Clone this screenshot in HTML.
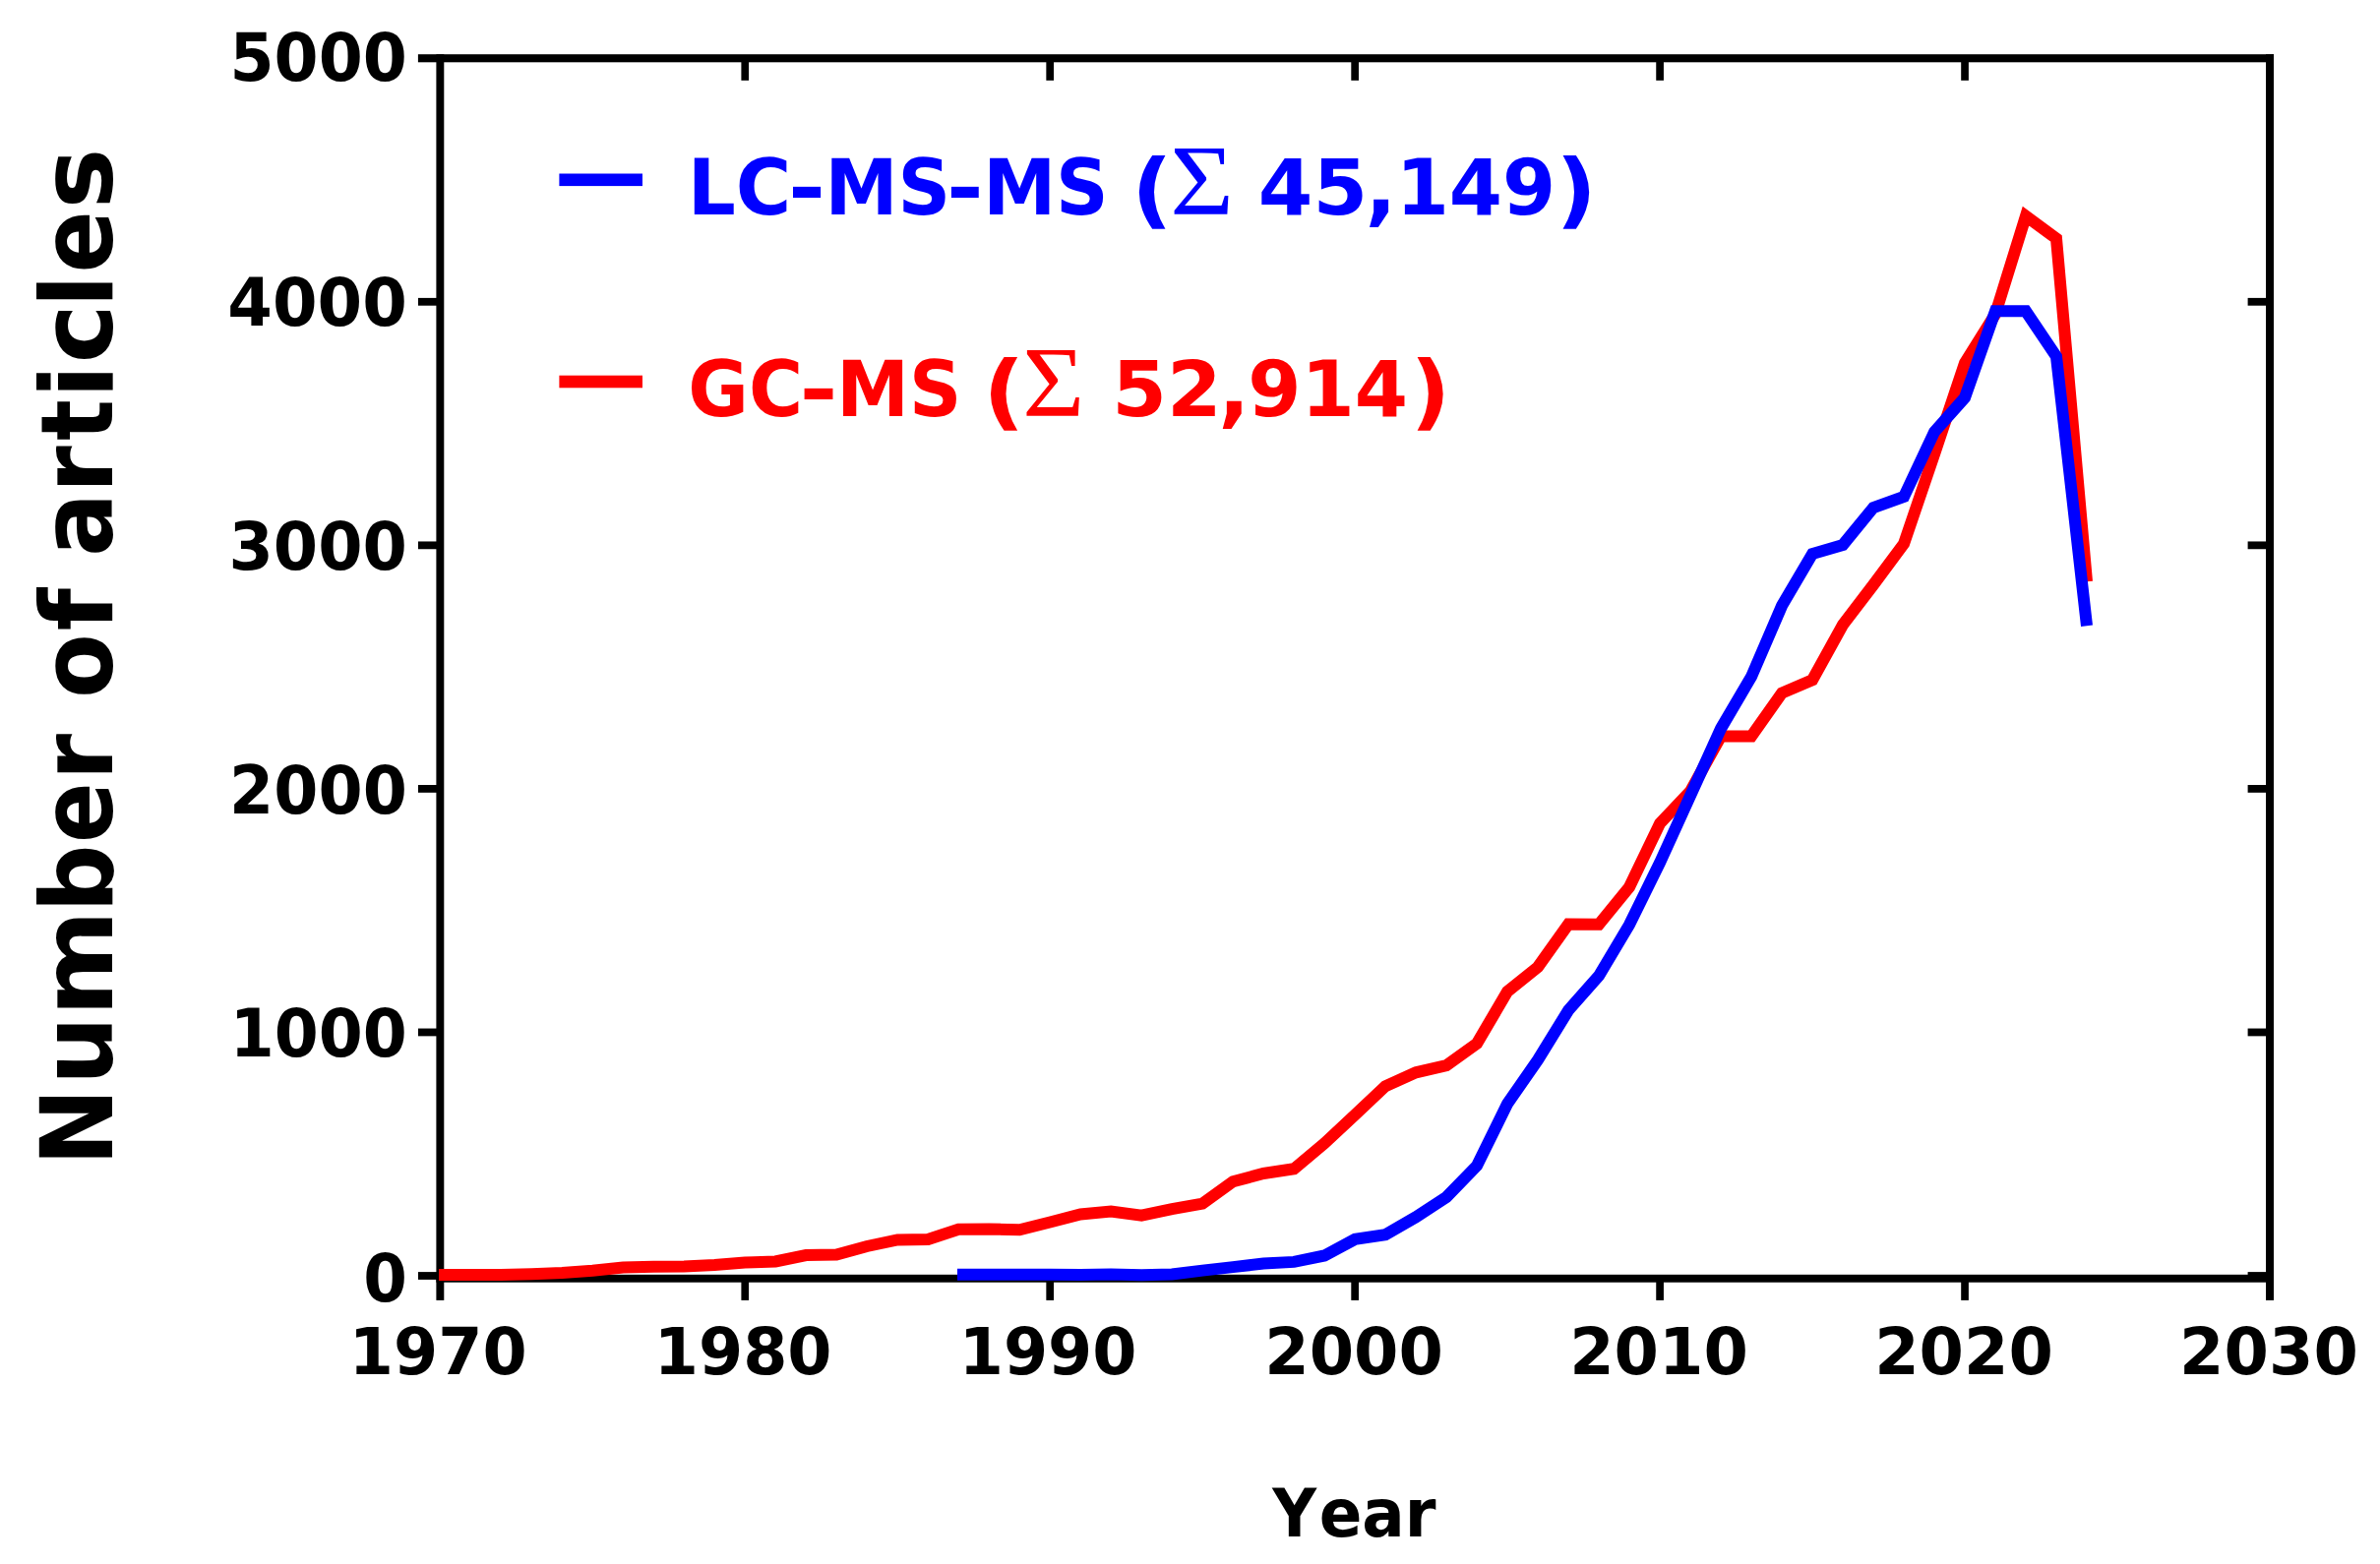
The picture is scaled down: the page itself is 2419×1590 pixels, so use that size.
<!DOCTYPE html>
<html lang="en"><head><meta charset="utf-8"><title>Number of articles per year</title>
<style>html,body{margin:0;padding:0;background:#fff}svg{display:block;filter:blur(0.7px)}</style></head>
<body><svg width="2419" height="1590" viewBox="0 0 2419 1590">
<rect width="2419" height="1590" fill="#fff"/>
<g id="axes">
<rect x="443.40" y="55.20" width="7.90" height="1266.70" fill="#000"/>
<rect x="2303.00" y="55.20" width="8.00" height="1266.70" fill="#000"/>
<rect x="424.90" y="55.20" width="1886.10" height="8.10" fill="#000"/>
<rect x="443.40" y="1295.80" width="1867.60" height="7.90" fill="#000"/>
<rect x="425.00" y="1293.10" width="19.40" height="7.80" fill="#000"/>
<rect x="2284.60" y="1293.10" width="19.40" height="7.80" fill="#000"/>
<rect x="425.00" y="1045.55" width="19.40" height="7.80" fill="#000"/>
<rect x="2284.60" y="1045.55" width="19.40" height="7.80" fill="#000"/>
<rect x="425.00" y="798.00" width="19.40" height="7.80" fill="#000"/>
<rect x="2284.60" y="798.00" width="19.40" height="7.80" fill="#000"/>
<rect x="425.00" y="550.45" width="19.40" height="7.80" fill="#000"/>
<rect x="2284.60" y="550.45" width="19.40" height="7.80" fill="#000"/>
<rect x="425.00" y="302.90" width="19.40" height="7.80" fill="#000"/>
<rect x="2284.60" y="302.90" width="19.40" height="7.80" fill="#000"/>
<rect x="753.40" y="1302.70" width="7.70" height="19.20" fill="#000"/>
<rect x="753.40" y="62.30" width="7.70" height="19.50" fill="#000"/>
<rect x="1063.35" y="1302.70" width="7.70" height="19.20" fill="#000"/>
<rect x="1063.35" y="62.30" width="7.70" height="19.50" fill="#000"/>
<rect x="1373.30" y="1302.70" width="7.70" height="19.20" fill="#000"/>
<rect x="1373.30" y="62.30" width="7.70" height="19.50" fill="#000"/>
<rect x="1683.25" y="1302.70" width="7.70" height="19.20" fill="#000"/>
<rect x="1683.25" y="62.30" width="7.70" height="19.50" fill="#000"/>
<rect x="1993.20" y="1302.70" width="7.70" height="19.20" fill="#000"/>
<rect x="1993.20" y="62.30" width="7.70" height="19.50" fill="#000"/>
</g>
<g id="labels" font-family="'DejaVu Sans', 'Liberation Sans', sans-serif" font-weight="bold">
<text x="233.48" y="82.30" font-size="66.80" textLength="180.35" lengthAdjust="spacingAndGlyphs" fill="#000">5000</text>
<text x="231.35" y="330.70" font-size="66.80" textLength="182.51" lengthAdjust="spacingAndGlyphs" fill="#000">4000</text>
<text x="232.50" y="578.90" font-size="66.80" textLength="181.34" lengthAdjust="spacingAndGlyphs" fill="#000">3000</text>
<text x="233.11" y="826.70" font-size="66.80" textLength="180.72" lengthAdjust="spacingAndGlyphs" fill="#000">2000</text>
<text x="233.72" y="1074.40" font-size="66.80" textLength="180.10" lengthAdjust="spacingAndGlyphs" fill="#000">1000</text>
<text x="369.15" y="1322.60" font-size="66.80" textLength="44.65" lengthAdjust="spacingAndGlyphs" fill="#000">0</text>
<text x="354.79" y="1397.41" font-size="65.74" textLength="180.84" lengthAdjust="spacingAndGlyphs" fill="#000">1970</text>
<text x="664.74" y="1397.41" font-size="65.74" textLength="180.84" lengthAdjust="spacingAndGlyphs" fill="#000">1980</text>
<text x="974.69" y="1397.41" font-size="65.74" textLength="180.84" lengthAdjust="spacingAndGlyphs" fill="#000">1990</text>
<text x="1285.23" y="1397.41" font-size="65.74" textLength="181.77" lengthAdjust="spacingAndGlyphs" fill="#000">2000</text>
<text x="1595.18" y="1397.41" font-size="65.74" textLength="181.77" lengthAdjust="spacingAndGlyphs" fill="#000">2010</text>
<text x="1905.13" y="1397.41" font-size="65.74" textLength="181.77" lengthAdjust="spacingAndGlyphs" fill="#000">2020</text>
<text x="2215.08" y="1397.41" font-size="65.74" textLength="181.77" lengthAdjust="spacingAndGlyphs" fill="#000">2030</text>
<text fill="#000"><tspan x="1293.26" y="1562.28" font-size="68.32" textLength="44.82" lengthAdjust="spacingAndGlyphs">Y</tspan><tspan x="1340.66" y="1562.28" font-size="68.32" textLength="118.88" lengthAdjust="spacingAndGlyphs">ear</tspan></text>
<text transform="translate(113.9,0) rotate(-90)" fill="#000"><tspan x="-1185.32" y="0.00" font-size="101.00" textLength="78.88" lengthAdjust="spacingAndGlyphs">N</tspan><tspan x="-1103.10" y="0.00" font-size="101.00" textLength="69.77" lengthAdjust="spacingAndGlyphs">u</tspan><tspan x="-1033.02" y="0.00" font-size="101.00" textLength="107.63" lengthAdjust="spacingAndGlyphs">m</tspan><tspan x="-927.72" y="0.00" font-size="101.00" textLength="69.26" lengthAdjust="spacingAndGlyphs">b</tspan><tspan x="-857.07" y="0.00" font-size="101.00" textLength="61.76" lengthAdjust="spacingAndGlyphs">e</tspan><tspan x="-793.36" y="0.00" font-size="101.00" textLength="47.37" lengthAdjust="spacingAndGlyphs">r</tspan> <tspan x="-709.88" y="0.00" font-size="101.00" textLength="65.91" lengthAdjust="spacingAndGlyphs">o</tspan><tspan x="-641.50" y="0.00" font-size="101.00" textLength="43.51" lengthAdjust="spacingAndGlyphs">f</tspan> <tspan x="-565.99" y="0.00" font-size="101.00" textLength="64.98" lengthAdjust="spacingAndGlyphs">a</tspan><tspan x="-501.17" y="0.00" font-size="101.00" textLength="47.98" lengthAdjust="spacingAndGlyphs">r</tspan><tspan x="-447.99" y="0.00" font-size="101.00" textLength="41.81" lengthAdjust="spacingAndGlyphs">t</tspan><tspan x="-404.65" y="0.00" font-size="101.00" textLength="33.69" lengthAdjust="spacingAndGlyphs">i</tspan><tspan x="-369.31" y="0.00" font-size="101.00" textLength="60.08" lengthAdjust="spacingAndGlyphs">c</tspan><tspan x="-312.26" y="0.00" font-size="101.00" textLength="32.91" lengthAdjust="spacingAndGlyphs">l</tspan><tspan x="-277.47" y="0.00" font-size="101.00" textLength="63.38" lengthAdjust="spacingAndGlyphs">e</tspan><tspan x="-212.56" y="0.00" font-size="101.00" textLength="61.93" lengthAdjust="spacingAndGlyphs">s</tspan></text>
</g>
<g id="legend" font-family="'DejaVu Sans', 'Liberation Sans', sans-serif" font-weight="bold">
<rect x="568.40" y="176.50" width="84.60" height="12.60" fill="#0000ff"/>
<rect x="568.40" y="381.70" width="84.60" height="12.60" fill="#ff0000"/>
<text fill="#0000ff"><tspan x="698.67" y="217.90" font-size="78.00" textLength="105.63" lengthAdjust="spacingAndGlyphs">LC</tspan><tspan x="800.95" y="217.90" font-size="78.00" textLength="38.10" lengthAdjust="spacingAndGlyphs">-</tspan><tspan x="838.42" y="217.90" font-size="78.00" textLength="127.60" lengthAdjust="spacingAndGlyphs">MS</tspan><tspan x="962.00" y="217.90" font-size="78.00" textLength="37.69" lengthAdjust="spacingAndGlyphs">-</tspan><tspan x="999.13" y="217.90" font-size="78.00" textLength="127.49" lengthAdjust="spacingAndGlyphs">MS</tspan> <tspan x="1149.93" y="222.18" font-size="83.92" textLength="41.76" lengthAdjust="spacingAndGlyphs">(</tspan><tspan x="1189.25" y="217.70" font-size="101.98" textLength="64.76" lengthAdjust="spacingAndGlyphs" font-family="'Liberation Serif', 'DejaVu Serif', serif" font-weight="normal">Σ</tspan> <tspan x="1278.80" y="217.90" font-size="78.00" textLength="111.33" lengthAdjust="spacingAndGlyphs">45</tspan><tspan x="1387.43" y="218.70" font-size="85.00" textLength="32.27" lengthAdjust="spacingAndGlyphs">,</tspan><tspan x="1418.64" y="217.90" font-size="78.00" textLength="162.62" lengthAdjust="spacingAndGlyphs">149</tspan><tspan x="1581.39" y="222.18" font-size="83.92" textLength="41.76" lengthAdjust="spacingAndGlyphs">)</tspan></text>
<text fill="#ff0000"><tspan x="699.24" y="423.00" font-size="78.00" textLength="116.82" lengthAdjust="spacingAndGlyphs">GC</tspan><tspan x="812.62" y="423.00" font-size="78.00" textLength="39.05" lengthAdjust="spacingAndGlyphs">-</tspan><tspan x="850.25" y="423.00" font-size="78.00" textLength="127.05" lengthAdjust="spacingAndGlyphs">MS</tspan> <tspan x="999.09" y="427.28" font-size="83.92" textLength="42.55" lengthAdjust="spacingAndGlyphs">(</tspan><tspan x="1039.37" y="422.80" font-size="101.98" textLength="62.99" lengthAdjust="spacingAndGlyphs" font-family="'Liberation Serif', 'DejaVu Serif', serif" font-weight="normal">Σ</tspan> <tspan x="1130.19" y="423.00" font-size="78.00" textLength="111.44" lengthAdjust="spacingAndGlyphs">52</tspan><tspan x="1238.35" y="423.80" font-size="85.00" textLength="32.10" lengthAdjust="spacingAndGlyphs">,</tspan><tspan x="1268.31" y="423.00" font-size="78.00" textLength="162.80" lengthAdjust="spacingAndGlyphs">914</tspan><tspan x="1433.46" y="427.28" font-size="83.92" textLength="40.82" lengthAdjust="spacingAndGlyphs">)</tspan></text>
</g>
<polyline id="gcms" points="446.1,1296.0 447.3,1296.0 478.3,1296.0 509.3,1296.0 540.3,1295.3 571.3,1294.0 602.3,1291.8 633.3,1288.6 664.3,1287.8 695.3,1287.6 726.3,1286.1 757.2,1283.6 788.2,1282.4 819.2,1276.0 850.2,1275.5 881.2,1267.0 912.2,1260.4 943.2,1259.9 974.2,1249.7 1005.2,1249.5 1036.2,1250.2 1067.2,1242.5 1098.2,1234.4 1129.2,1231.6 1160.2,1235.6 1191.2,1229.2 1222.2,1223.7 1253.2,1201.2 1284.2,1193.0 1315.2,1188.3 1346.2,1162.3 1377.2,1133.4 1408.1,1104.2 1439.1,1090.3 1470.1,1083.1 1501.1,1060.8 1532.1,1008.0 1563.1,983.1 1594.1,939.5 1625.1,939.8 1656.1,901.7 1687.1,837.1 1718.1,804.3 1749.1,748.5 1780.1,748.5 1811.1,704.6 1842.1,691.2 1873.1,635.0 1904.1,594.5 1935.1,552.8 1966.1,461.5 1997.0,369.0 2028.0,319.5 2059.0,219.6 2090.0,242.4 2121.0,591.3" fill="none" stroke="#ff0000" stroke-width="12" stroke-linejoin="miter" stroke-linecap="butt"/>
<polyline id="lcmsms" points="973.0,1295.8 974.2,1295.8 1005.2,1295.8 1036.2,1295.8 1067.2,1295.8 1098.2,1296.0 1129.2,1295.5 1160.2,1296.3 1191.2,1295.5 1222.2,1291.6 1253.2,1288.1 1284.2,1284.6 1315.2,1282.9 1346.2,1276.5 1377.2,1259.9 1408.1,1255.2 1439.1,1237.3 1470.1,1217.0 1501.1,1185.1 1532.1,1122.0 1563.1,1077.4 1594.1,1027.0 1625.1,992.0 1656.1,940.0 1687.1,877.0 1718.1,808.8 1749.1,740.6 1780.1,687.8 1811.1,615.8 1842.1,563.0 1873.1,553.9 1904.1,516.0 1935.1,505.0 1966.1,439.0 1997.0,404.3 2028.0,316.3 2059.0,316.3 2090.0,362.5 2121.0,636.2" fill="none" stroke="#0000ff" stroke-width="12" stroke-linejoin="miter" stroke-linecap="butt"/>
</svg></body></html>
